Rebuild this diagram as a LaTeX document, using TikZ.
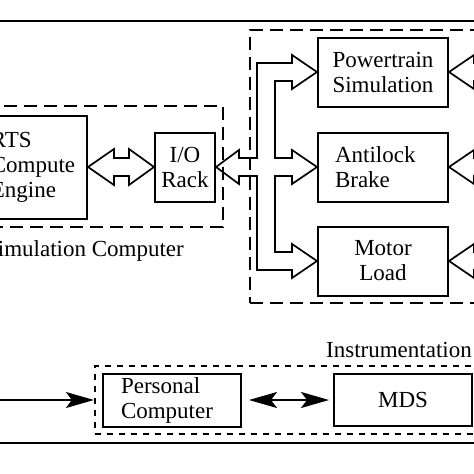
\documentclass[tikz,border=0pt]{standalone}
\usepackage{fontspec}
\setmainfont{Liberation Serif}
\usetikzlibrary{arrows.meta,calc}

\begin{document}
\begin{tikzpicture}[
x=1pt, y=-1pt,
font=\fontsize{23}{25}\selectfont,
block/.style={draw, line width=2pt, inner sep=0pt, align=center},
hollow/.style={line width=1.7pt, line join=miter},
zone/.style={draw, line width=2.4pt, dash pattern=on 13pt off 7pt, inner sep=0pt},
zonefine/.style={draw, line width=2.2pt, dash pattern=on 6pt off 6pt, inner sep=0pt},
tip/.style={line width=1.8pt, -{Stealth[length=28pt,width=16pt,inset=6pt]}},
link/.style={line width=1.8pt, {Stealth[length=28pt,width=16pt,inset=6pt]}-{Stealth[length=28pt,width=16pt,inset=6pt]}}
]
\useasboundingbox (0,0) rectangle (474,474);
\clip (0,0) rectangle (474,474);

% dashed zones
\node [zone, minimum width=253, minimum height=121] (simzone) at (96.5,166.5) {};
\node [zone, minimum width=250, minimum height=273] (hilzone) at (375,166.5) {};
\node [zonefine, minimum width=400, minimum height=68] (instzone) at (295,400) {};

% blocks
\node [block, minimum width=108, minimum height=103, align=left] (rts) at (33,167) {RTS\\Compute\\Engine};
\node [block, minimum width=60, minimum height=69] (io) at (185,167) {I/O\\Rack};
\node [block, minimum width=130, minimum height=69] (ptrain) at (383,72) {Powertrain\\Simulation};
\node [block, minimum width=130, minimum height=69, text width=96pt, align=left] (abs) at (383,167) {Antilock\\Brake};
\node [block, minimum width=130, minimum height=69, text width=118pt] (motor) at (383,261) {Motor\\Load};
\node [block, minimum width=138, minimum height=53, text width=102pt, align=left] (pc) at (172,400) {Personal\\Computer};
\node [block, minimum width=138, minimum height=52] (mds) at (403,400) {MDS};

% labels
\node [anchor=base east, inner sep=0pt] (simlabel) at (184,256) {Simulation Computer};
\node [anchor=base east, inner sep=0pt] (instlabel) at (472,357) {Instrumentation};

% hollow arrows
\draw [hollow] (rts.east) -- ++(26,-18) -- ++(0,9) -- ($(io.west)+(-25,-9)$) -- ++(0,-9)
  -- (io.west) -- ++(-25,18) -- ++(0,-9) -- ($(rts.east)+(26,9)$) -- ++(0,9) -- cycle;
\draw [hollow] (io.east) -- ++(23,-17) -- ++(0,8) -- (257,158) -- (257,63)
  -- ($(ptrain.west)+(-25,-9)$) -- ++(0,-8) -- (ptrain.west) -- ++(-25,17) -- ++(0,-8)
  -- (275,81) -- (275,158)
  -- ($(abs.west)+(-25,-9)$) -- ++(0,-8) -- (abs.west) -- ++(-25,17) -- ++(0,-8)
  -- (275,176) -- (275,252)
  -- ($(motor.west)+(-25,-9)$) -- ++(0,-8) -- (motor.west) -- ++(-25,17) -- ++(0,-8)
  -- (257,270) -- (257,176) -- ($(io.east)+(23,9)$) -- ++(0,8) -- cycle;
\foreach \b in {ptrain,abs,motor}
  \draw [hollow] ($(\b.east)+(40,-9)$) -- ++(-15,0) -- ++(0,-8) -- (\b.east)
    -- ++(25,17) -- ++(0,-8) -- ++(15,0);

% instrumentation links
\coordinate (feed) at (-5,400);
\draw [tip] (feed) -- (instzone.west);
\draw [link, shorten <=7pt, shorten >=4pt] (pc) -- (mds);

% frame lines
\draw [line width=2pt] (0,21) -- (474,21);
\draw [line width=2pt] (0,443) -- (474,443);
\end{tikzpicture}
\end{document}
